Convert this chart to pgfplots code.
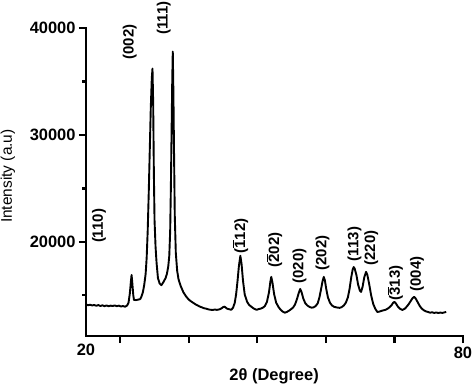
\documentclass[border=0pt]{standalone}
\usepackage{pgfplots}
\pgfplotsset{compat=1.18}
\usepackage{fontspec}
\setmainfont{Liberation Sans}
\setsansfont{Liberation Sans}
\newcommand\ob[1]{$\overline{\mbox{#1}}$}
\begin{document}
\begin{tikzpicture}
\useasboundingbox (-86bp,-50bp) rectangle (388bp,336bp);
\begin{axis}[
  at={(0,0)}, anchor=south west,
  scale only axis, width=377bp, height=308bp,
  xmin=25, xmax=80, ymin=11200, ymax=40000,
  axis lines=left,
  axis line style={line width=2.8bp, -, line cap=rect},
  tick align=outside,
  major tick length=7bp, minor tick length=3.5bp,
  every tick/.style={line width=2.2bp, black},
  xtick={30,40,50,60,70,80},
  xticklabels={,,,,,80},
  extra x ticks={25},
  extra x tick labels={20},
  extra x tick style={major tick length=0pt, xticklabel style={yshift=-5bp}},
  ytick={20000,30000,40000},
  minor ytick={15000,25000,35000},
  scaled y ticks=false,
  /pgf/number format/1000 sep={},
  /pgf/number format/assume math mode=true,
  every tick label/.append style={font=\fontsize{16.5}{18}\selectfont\bfseries},
  xlabel={2θ (Degree)},
  ylabel={Intensity (a.u)},
  every axis x label/.style={at={(axis description cs:0.499,-0.130)}, anchor=center, font=\fontsize{16.5}{18}\selectfont\bfseries},
  every axis y label/.style={at={(axis description cs:-0.207,0.519)}, rotate=90, anchor=center, font=\fontsize{15.5}{18}\selectfont},
  clip=false,
]
\addplot[black, line width=1.9bp, line join=round] coordinates {
(25.0,14150) (25.3,14080) (25.6,14120) (25.9,14060) (26.2,14100) (26.5,14030)
(26.8,14090) (27.1,14010) (27.4,14070) (27.7,13990) (28.0,14060) (28.3,13980)
(28.6,14040) (28.9,14000) (29.2,14060) (29.5,13990) (29.8,14040) (30.1,13960)
(30.4,14000) (30.7,13940) (31.0,14050) (31.2,14300) (31.4,15200) (31.55,16300)
(31.65,16900) (31.75,16200) (31.9,15000) (32.0,14570) (32.3,14560) (32.6,14600)
(32.9,14650) (33.1,14900) (33.3,15300) (33.5,16000) (33.7,17000) (33.85,18500)
(34.0,21000) (34.15,24500) (34.3,28500) (34.45,32500) (34.6,35300) (34.7,36200)
(34.8,33000) (34.9,26500) (35.0,22000) (35.15,19500) (35.3,18000) (35.5,16600)
(35.75,16100) (36.0,15950) (36.3,16250) (36.6,16600) (36.8,17000) (37.0,17700)
(37.15,18700) (37.28,21000) (37.38,25000) (37.48,30000) (37.58,35000) (37.66,37800)
(37.75,34000) (37.85,28000) (37.95,22500) (38.1,19000) (38.3,17300) (38.5,16500)
(38.8,15900) (39.2,15300) (39.6,14900) (40.0,14600) (40.3,14450) (40.6,14320)
(41.0,14150) (41.3,14050) (41.6,13950) (41.9,13880) (42.2,13800) (42.5,13760)
(42.8,13700) (43.1,13660) (43.5,13630) (43.8,13680) (44.1,13640) (44.5,13700)
(44.8,13800) (45.0,13900) (45.2,13950) (45.4,13850) (45.6,13750) (45.9,13700)
(46.2,13650) (46.45,13850) (46.7,14300) (46.9,15100) (47.1,16300) (47.3,17700)
(47.52,18700) (47.7,17900) (47.9,16400) (48.15,15100) (48.5,14400) (48.8,14100)
(49.1,13950) (49.4,13800) (49.7,13700) (49.9,13650) (50.2,13720) (50.5,13760)
(50.8,13850) (51.1,14000) (51.4,14400) (51.7,15300) (51.9,16300) (52.03,16730)
(52.2,16200) (52.45,15100) (52.75,14300) (53.1,13900) (53.4,13650) (53.7,13480)
(54.0,13380) (54.3,13450) (54.6,13560) (54.9,13700) (55.2,13850) (55.5,14150)
(55.8,14700) (56.05,15250) (56.25,15600) (56.45,15300) (56.7,14700) (57.0,14250)
(57.3,14050) (57.6,13920) (57.9,13850) (58.2,13880) (58.5,14000) (58.8,14250)
(59.05,14800) (59.3,15600) (59.5,16300) (59.69,16730) (59.85,16400) (60.05,15600)
(60.3,14800) (60.6,14300) (60.9,14050) (61.2,13930) (61.5,13880) (61.8,13850)
(62.0,13830) (62.3,13900) (62.6,14050) (62.9,14300) (63.2,14800) (63.45,15600)
(63.7,16700) (63.9,17400) (64.05,17650) (64.2,17500) (64.45,16900) (64.7,16000)
(64.95,15450) (65.13,15320) (65.35,15800) (65.6,16700) (65.86,17200) (66.05,16900)
(66.3,16100) (66.6,15000) (66.9,14200) (67.2,13750) (67.5,13450) (67.8,13480)
(68.1,13550) (68.4,13600) (68.7,13650) (69.0,13750) (69.3,13900) (69.6,14100)
(69.8,14300) (69.98,14390) (70.2,14250) (70.5,13950) (70.8,13750) (71.15,13640)
(71.5,13750) (71.8,13950) (72.1,14200) (72.4,14500) (72.65,14750) (72.89,14860)
(73.1,14700) (73.4,14350) (73.7,14000) (74.0,13750) (74.3,13600) (74.6,13500)
(74.9,13450) (75.2,13380) (75.5,13420) (75.8,13360) (76.1,13400) (76.4,13350)
(76.7,13390) (77.0,13360) (77.3,13410) (77.55,13450)
};
\begin{scope}[every node/.style={rotate=90, anchor=center, inner sep=0pt, font=\fontsize{15}{17}\selectfont\bfseries}]
\node at (axis cs:26.9,21490) {(110)};
\node at (axis cs:31.4,38690) {(002)};
\node at (axis cs:36.35,40935) {(111)};
\node at (axis cs:47.56,20550) {(\ob{1}12)};
\node at (axis cs:52.5,19240) {(\ob{2}02)};
\node at (axis cs:56.15,17740) {(020)};
\node at (axis cs:59.5,18960) {(202)};
\node at (axis cs:64.16,19800) {(113)};
\node at (axis cs:66.6,19430) {(220)};
\node at (axis cs:70.1,16160) {(\ob{3}13)};
\node at (axis cs:73.3,17000) {(004)};
\end{scope}
\end{axis}
\end{tikzpicture}
\end{document}
